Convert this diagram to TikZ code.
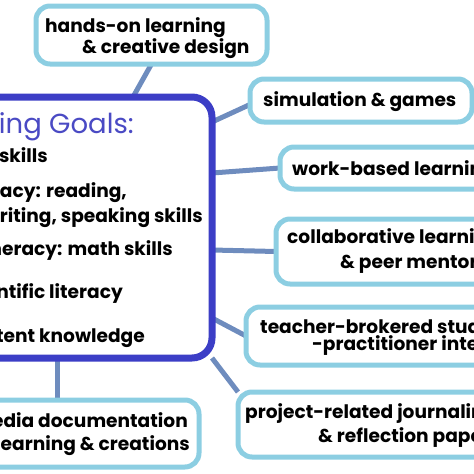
\documentclass[tikz,border=0pt]{standalone}
\usepackage{fontspec}
\setmainfont{Poppins}
\usepackage{tikz}
\usetikzlibrary{
	calc,
	backgrounds,
	positioning,
	}
\definecolor{goalblue}{RGB}{60,62,198}
\definecolor{titleblue}{RGB}{74,74,196}
\definecolor{topicblue}{RGB}{140,206,226}
\definecolor{linkblue}{RGB}{110,140,190}
\tikzset{
	goalbox/.style={draw=goalblue,line width=7pt,rounded corners=20pt,fill=white,inner sep=0pt,outer sep=0pt},
	topicbox/.style={draw=topicblue,line width=5pt,rounded corners=14pt,fill=white,inner sep=0pt,outer sep=0pt},
	link/.style={linkblue,line width=5pt},
	txt/.style={inner sep=0pt,font=\fontsize{18.6}{21}\selectfont\bfseries},
}

\begin{document}
\begin{tikzpicture}[x=1pt,y=-1pt]
\useasboundingbox (0,0) rectangle (474,474);
\clip (0,0) rectangle (474,474);
\node[goalbox,anchor=north west,minimum width=272pt,minimum height=261pt] (goals) at (-60,97) {};
\node[topicbox,anchor=north west,minimum width=231pt,minimum height=58pt] (hands) at (36,6) {};
\node[topicbox,anchor=north west,minimum width=222pt,minimum height=43pt] (sim) at (250,79) {};
\node[topicbox,anchor=north west,minimum width=280pt,minimum height=42pt] (work) at (280,147) {};
\node[topicbox,anchor=north west,minimum width=284pt,minimum height=65pt] (collab) at (276,219) {};
\node[topicbox,anchor=north west,minimum width=314pt,minimum height=58pt] (teacher) at (246,307) {};
\node[topicbox,anchor=north west,minimum width=322pt,minimum height=65pt] (project) at (238,392) {};
\node[topicbox,anchor=north west,minimum width=259pt,minimum height=67pt] (media) at (-60,400) {};
\begin{scope}[on background layer]
\draw[link] (hands.south) -- ($(goals.north east)+(-79,0)$);
\draw[link] ($(goals.north east)+(0,25)$) -- ($(sim.west)+(0,4)$);
\draw[link] ($(goals.north east)+(0,76)$) -- (work.west);
\draw[link] ($(goals.north east)+(0,153)$) -- (collab.west);
\draw[link] ($(goals.north east)+(0,221)$) -- (teacher.west);
\draw[link] (goals.south east) -- (project.north west);
\draw[link] ($(goals.south west)+(117,0)$) -- ($(media.north west)+(117,0)$);
\end{scope}
\node[inner sep=0pt,anchor=base east,text=titleblue,font=\fontsize{27.5}{31}\selectfont] (title) at (134,133) {Learning Goals:};
\node[txt,anchor=base east] (g1) at (48,162) {Basic skills};
\node[txt,anchor=base east] (g2) at (127,197) {literacy: reading,};
\node[txt,anchor=base east] (g3) at (203,222) {writing, speaking skills};
\node[txt,anchor=base east] (g4) at (173,255) {numeracy: math skills};
\node[txt,anchor=base east] (g5) at (123,298) {scientific literacy};
\node[txt,anchor=base east] (g6) at (145,342) {content knowledge};
\node[txt,anchor=base west] (h1) at (45,32) {hands-on learning};
\node[txt,anchor=base west] (h2) at (82,53) {\& creative design};
\node[txt,anchor=base west] (s1) at (263,106) {simulation \& games};
\node[txt,anchor=base west] (w1) at (292,175) {work-based learning};
\node[txt,anchor=base west] (c1) at (287,243) {collaborative learning};
\node[txt,anchor=base west] (c2) at (340,268) {\& peer mentoring};
\node[txt,anchor=base west] (p1) at (260,333) {teacher-brokered student};
\node[txt,anchor=base west] (p2) at (312,350) {-practitioner interactions};
\node[txt,anchor=base west] (r1) at (245,418) {project-related journaling};
\node[txt,anchor=base west] (r2) at (318,442) {\& reflection papers};
\node[txt,anchor=base east] (m1) at (188,427) {multimedia documentation};
\node[txt,anchor=base east] (m2) at (190,450) {of learning \& creations};
\end{tikzpicture}
\end{document}
